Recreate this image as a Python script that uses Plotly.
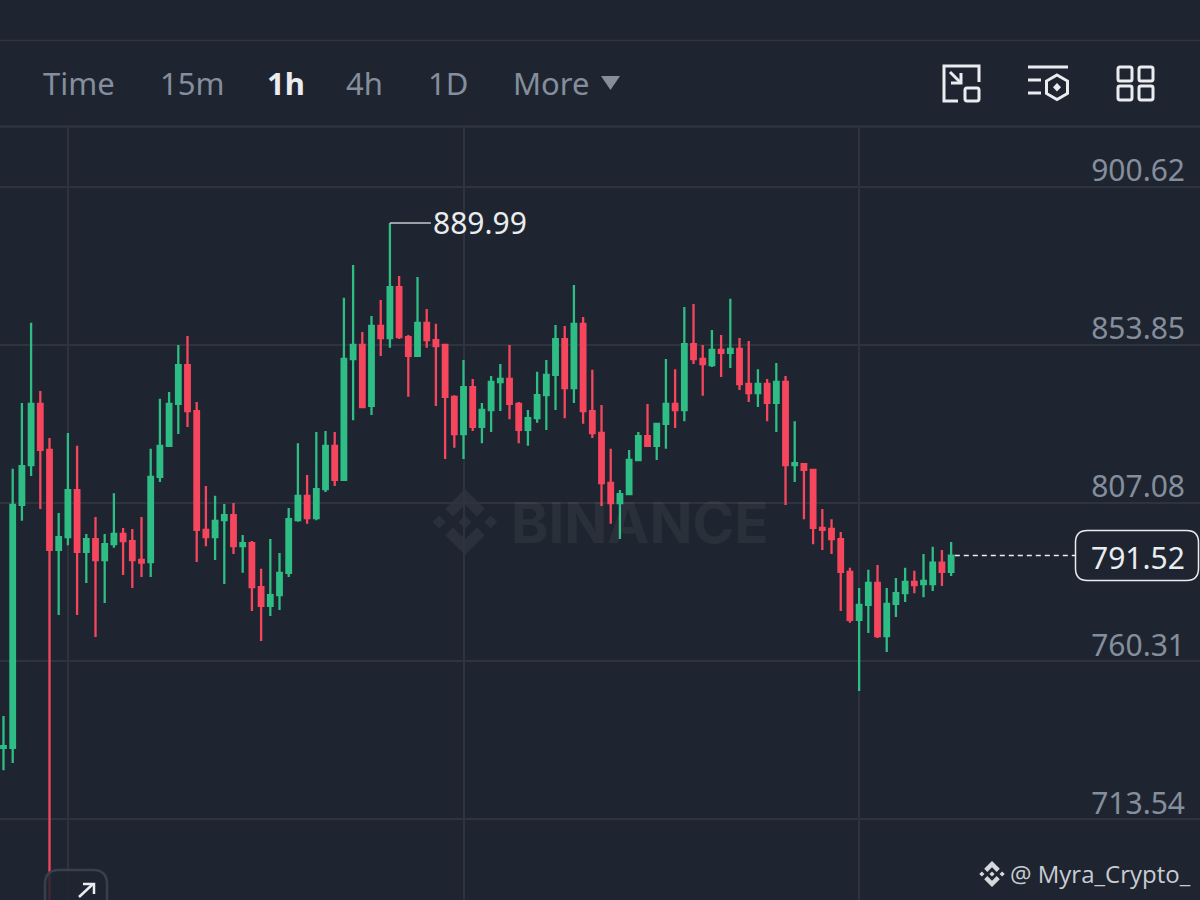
import plotly.graph_objects as go

# hourly candles, oldest first
candles = list(range(104))
opens = [734.6, 734.6, 806.5, 818.3, 836.4, 822.8, 793.2, 797.0, 810.9, 792.6,
         796.4, 790.2, 794.9, 797.9, 795.8, 790.2, 789.6, 814.8, 824.0, 836.4,
         847.9, 834.3, 799.1, 797.0, 802.0, 803.5, 794.3, 795.2, 782.2, 776.6,
         779.8, 786.4, 802.0, 809.2, 802.6, 811.2, 824.0, 813.9, 849.7, 853.85,
         835.8, 859.5, 855.9, 871.0, 856.2, 850.6, 860.4, 855.3, 853.85, 838.5,
         827.5, 841.4, 829.6, 834.6, 842.9, 843.8, 836.4, 828.7, 832.2, 839.0,
         845.0, 855.6, 841.1, 860.1, 834.3, 827.8, 813.0, 807.08, 809.7, 819.8,
         826.9, 824.0, 830.5, 836.4, 834.6, 854.1, 849.7, 847.9, 852.4, 851.5,
         852.7, 842.3, 839.6, 842.3, 836.7, 842.9, 818.3, 818.6, 816.9, 799.7,
         799.4, 796.4, 786.7, 772.5, 776.9, 783.4, 767.7, 777.2, 780.4, 783.7,
         783.1, 783.1, 789.4, 786.7]
highs = [744.0, 817.2, 836.7, 860.4, 840.2, 826.3, 804.1, 827.8, 824.0, 797.9,
         802.9, 797.9, 810.0, 799.7, 799.4, 802.9, 823.1, 837.9, 839.9, 853.85,
         856.5, 837.0, 812.1, 809.2, 806.8, 807.08, 797.6, 795.8, 787.6, 796.4,
         792.3, 805.6, 824.8, 815.4, 828.1, 828.4, 828.1, 867.8, 877.5, 857.7,
         862.4, 867.2, 889.99, 874.3, 856.8, 874.0, 864.5, 860.1, 853.85, 839.0,
         849.4, 843.8, 836.7, 844.7, 848.2, 853.85, 837.0, 834.6, 845.9, 849.4,
         859.8, 859.5, 871.6, 862.1, 846.5, 836.1, 823.1, 810.9, 822.8, 828.1,
         836.4, 830.8, 849.7, 846.7, 865.1, 866.0, 853.85, 858.3, 856.8, 867.5,
         855.9, 855.0, 846.7, 843.8, 848.5, 844.7, 831.3, 818.6, 817.1, 805.3,
         802.3, 798.5, 787.9, 781.9, 787.3, 788.7, 781.9, 784.9, 787.9, 787.0,
         792.0, 794.1, 793.2, 795.5]
lows = [728.0, 730.1, 801.8, 815.1, 805.3, 688.1, 773.9, 794.6, 773.9, 783.4,
        767.4, 777.5, 793.8, 785.8, 781.9, 785.2, 785.2, 813.3, 824.0, 827.5,
        829.6, 789.6, 794.3, 790.2, 783.1, 792.0, 786.4, 775.1, 766.2, 773.6,
        775.4, 785.2, 801.5, 800.9, 802.0, 810.3, 812.1, 813.6, 831.6, 835.2,
        833.1, 850.6, 853.0, 855.6, 838.5, 850.6, 853.0, 835.8, 820.1, 823.4,
        820.1, 828.4, 824.8, 828.1, 834.3, 831.9, 824.8, 824.0, 830.8, 828.7,
        834.6, 832.2, 836.7, 830.5, 826.3, 806.2, 800.9, 796.4, 809.5, 819.5,
        824.0, 819.8, 823.1, 829.3, 831.3, 848.2, 838.8, 847.3, 844.4, 847.0,
        840.5, 837.0, 835.5, 831.3, 828.1, 806.5, 813.3, 802.3, 794.9, 793.2,
        792.0, 775.1, 771.6, 751.4, 768.6, 767.1, 763.0, 773.3, 777.8, 780.4,
        779.2, 781.0, 782.5, 785.5]
closes = [735.1, 806.5, 818.0, 836.4, 822.8, 793.2, 797.0, 810.9, 792.6, 796.4,
          790.2, 794.9, 797.9, 795.8, 790.2, 789.4, 814.8, 824.0, 836.4, 847.9,
          834.3, 799.1, 797.0, 801.8, 803.5, 794.3, 795.2, 782.2, 776.6, 779.8,
          786.4, 802.3, 809.2, 802.6, 811.2, 824.0, 813.9, 849.7, 853.85, 835.5,
          859.5, 855.9, 871.0, 856.2, 850.6, 860.4, 855.3, 853.5, 838.5, 827.5,
          841.4, 829.6, 834.6, 842.9, 843.8, 836.4, 828.7, 832.2, 839.0, 845.0,
          855.6, 841.1, 860.1, 834.3, 827.8, 813.0, 807.08, 809.7, 819.8, 826.9,
          824.0, 830.5, 836.4, 834.6, 854.1, 849.7, 848.2, 852.4, 851.5, 852.7,
          842.3, 839.6, 842.3, 836.7, 842.9, 818.3, 818.9, 816.9, 799.7, 799.1,
          796.4, 786.7, 772.5, 776.9, 783.4, 767.7, 777.2, 780.4, 783.7, 782.8,
          784.0, 789.4, 786.7, 791.52]

price_ticks = [900.62, 853.85, 807.08, 760.31, 713.54]
price_labels = ['900.62', '853.85', '807.08', '760.31', '713.54']
time_ticks = [7, 50, 93]
high_candle = 42
high_price = 889.99
last_candle = 103
last_price = 791.52
intervals = ['Time', '15m', '1h', '4h', '1D', 'More']
interval_lefts = [41, 158, 265, 344, 426, 511]

BG = '#1f2530'
GRID = '#2e333e'
GREEN = '#2ebd85'
RED = '#f6465d'
GREY = '#848e9c'
WHITE = '#eaecef'
FONT = 'Noto Sans'


def px_x(x):
    return x / 1200


def px_y(y):
    return 1 - y / 900


def path_from(points, closed=False):
    """Builds an svg path in paper coordinates from page pixel points."""
    parts = []
    for i, (x, y) in enumerate(points):
        parts.append(('M' if i == 0 else 'L') + f'{px_x(x):.5f},{px_y(y):.5f}')
    return ' '.join(parts) + (' Z' if closed else '')


def rounded_box(x0, y0, x1, y1, r):
    """Svg path of a rounded rectangle given in page pixels."""
    points = [(x0 + r, y0), (x1 - r, y0)]
    path = path_from(points)
    path += f' Q{px_x(x1):.5f},{px_y(y0):.5f} {px_x(x1):.5f},{px_y(y0 + r):.5f}'
    path += f' L{px_x(x1):.5f},{px_y(y1 - r):.5f}'
    path += f' Q{px_x(x1):.5f},{px_y(y1):.5f} {px_x(x1 - r):.5f},{px_y(y1):.5f}'
    path += f' L{px_x(x0 + r):.5f},{px_y(y1):.5f}'
    path += f' Q{px_x(x0):.5f},{px_y(y1):.5f} {px_x(x0):.5f},{px_y(y1 - r):.5f}'
    path += f' L{px_x(x0):.5f},{px_y(y0 + r):.5f}'
    path += f' Q{px_x(x0):.5f},{px_y(y0):.5f} {px_x(x0 + r):.5f},{px_y(y0):.5f} Z'
    return path


def add_path(fig, path, line=None, fill=None, width=3, layer='above'):
    fig.add_shape(type='path', path=path, xref='paper', yref='paper',
                  line=dict(color=line or 'rgba(0,0,0,0)', width=width),
                  fillcolor=fill or 'rgba(0,0,0,0)', layer=layer)


def add_segment(fig, x0, y0, x1, y1, color=WHITE, width=3):
    add_path(fig, path_from([(x0, y0), (x1, y1)]), line=color, width=width)


def add_logo(fig, cx, cy, r, color, layer):
    """The Binance mark: three small diamonds and two chevrons."""
    for dx in [-0.78, 0, 0.78]:
        s = 0.2
        add_path(fig, path_from([(cx + (dx - s) * r, cy), (cx + dx * r, cy - s * r),
                                 (cx + (dx + s) * r, cy), (cx + dx * r, cy + s * r)],
                                True), fill=color, width=0, layer=layer)
    for sign in [-1, 1]:
        chevron = [(0, 1), (0.6, 0.4), (0.36, 0.16), (0, 0.52), (-0.36, 0.16), (-0.6, 0.4)]
        add_path(fig, path_from([(cx + a * r, cy + sign * b * r) for a, b in chevron], True),
                 fill=color, width=0, layer=layer)


fig = go.Figure(go.Candlestick(
    x=candles, open=opens, high=highs, low=lows, close=closes,
    increasing=dict(line=dict(color=GREEN, width=2.3), fillcolor=GREEN),
    decreasing=dict(line=dict(color=RED, width=2.3), fillcolor=RED),
    whiskerwidth=0, showlegend=False))

fig.update_layout(
    width=1200, height=900, autosize=False,
    margin=dict(l=0, r=0, t=0, b=0),
    paper_bgcolor=BG, plot_bgcolor=BG,
    font=dict(family=FONT, color=GREY),
    showlegend=False,
    xaxis=dict(range=[-0.38, 130.05], rangeslider=dict(visible=False),
               tickvals=time_ticks, showticklabels=False, ticks='',
               showgrid=True, gridcolor=GRID, gridwidth=1.5, zeroline=False),
    yaxis=dict(range=[689.57, 918.37], domain=[0, 773 / 900], side='right',
               tickvals=price_ticks, ticktext=price_labels,
               ticklabelposition='inside', ticklabelshift=-16, ticklabelstandoff=12,
               tickfont=dict(size=30, color=GREY, family=FONT), ticks='',
               showgrid=True, gridcolor=GRID, gridwidth=1.5, zeroline=False),
)

# header rules
add_segment(fig, 0, 40.5, 1200, 40.5, color=GRID, width=1.5)
add_segment(fig, 0, 126.5, 1200, 126.5, color=GRID, width=2.5)

# interval tabs
for name, left in zip(intervals, interval_lefts):
    active = name == '1h'
    fig.add_annotation(text=f'<b>{name}</b>' if active else name,
                       x=px_x(left), y=px_y(82.5), xref='paper', yref='paper',
                       xanchor='left', yanchor='middle', showarrow=False,
                       font=dict(size=31, color=WHITE if active else GREY, family=FONT))
add_path(fig, path_from([(601, 76), (620, 76), (610.5, 90)], True), fill=GREY, width=0)

# toolbar icons
add_path(fig, path_from([(979, 82), (979, 66), (944, 66), (944, 101), (958, 101)]), line=WHITE)
add_path(fig, rounded_box(965, 88, 979, 101, 2), line=WHITE)
add_segment(fig, 950, 72, 961, 83)
add_path(fig, path_from([(961, 73), (961, 83), (951, 83)]), line=WHITE)

add_segment(fig, 1028, 67, 1068, 67)
add_segment(fig, 1028, 80, 1041, 80)
add_segment(fig, 1028, 93, 1041, 93)
add_path(fig, path_from([(1057, 75), (1067.5, 81), (1067.5, 93.5), (1057, 99.5),
                         (1046.5, 93.5), (1046.5, 81)], True), line=WHITE)
add_path(fig, path_from([(1057, 83), (1061, 87.3), (1057, 91.5), (1053, 87.3)], True),
         fill=WHITE, width=0)

for left in [1118, 1139]:
    for top in [67, 86]:
        add_path(fig, rounded_box(left, top, left + 14, top + 14, 2), line=WHITE)

# watermark, kept very faint so the candles still show through
add_logo(fig, 465, 522, 33, '#2b313c', 'below')
fig.add_annotation(text='<b>BINANCE</b>', x=px_x(640), y=px_y(522), xref='paper', yref='paper',
                   showarrow=False, xanchor='center', yanchor='middle',
                   font=dict(size=56.5, color='rgba(255,255,255,0.05)', family='Inter'))

# highest price marker
fig.add_annotation(text=f'{high_price:.2f}', x=candles[high_candle], y=high_price,
                   xref='x', yref='y', ax=41, ay=0, axref='pixel', ayref='pixel',
                   xanchor='left', yanchor='middle', showarrow=True, arrowhead=0,
                   arrowwidth=1.5, arrowcolor='#c4c7cc', standoff=0,
                   font=dict(size=30, color=WHITE, family=FONT))

# last price line and tag
fig.add_shape(type='line', x0=candles[last_candle] + 0.4, x1=116.5, y0=last_price, y1=last_price,
              xref='x', yref='y', line=dict(color=WHITE, width=1.5, dash='5px,4px'))
add_path(fig, rounded_box(1075.5, 530.5, 1198.5, 580.5, 12), line=WHITE, fill=BG, width=1.5)
fig.add_annotation(text=f'{last_price:.2f}', x=px_x(1138), y=px_y(557), xref='paper', yref='paper',
                   xanchor='center', yanchor='middle', showarrow=False,
                   font=dict(size=30, color=WHITE, family=FONT))

# expand button, cut off by the bottom of the page
add_path(fig, rounded_box(45, 870, 107, 930, 14), line='#3a404b', fill='rgba(31,37,48,0.85)', width=2.5)
add_segment(fig, 79, 897, 93, 884, width=2.5)
add_path(fig, path_from([(83, 884), (94, 884), (94, 894)]), line=WHITE, width=2.5)

# credit
add_logo(fig, 992, 874, 13, '#d5d8dc', 'above')
fig.add_annotation(text='@ Myra_Crypto_', x=px_x(1008), y=px_y(873), xref='paper', yref='paper',
                   xanchor='left', yanchor='middle', showarrow=False,
                   font=dict(size=24, color='#c8ccd2', family='Open Sans'))

fig.write_html('out.html', config={'displayModeBar': False},
               post_script="document.body.style.margin='0';document.body.style.overflow='hidden';")
